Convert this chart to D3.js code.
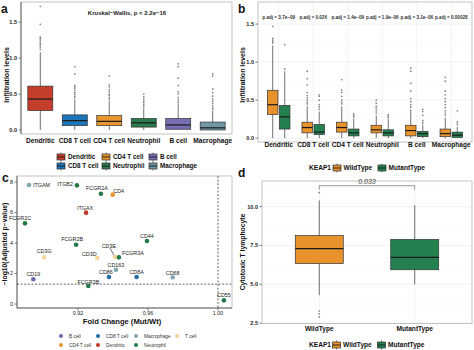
<!DOCTYPE html>
<html>
<head>
<meta charset="utf-8">
<script src="https://cdn.jsdelivr.net/npm/d3@7"></script>
<style>
body { margin: 0; background: #fff; }
svg { font-family: "Liberation Sans", Arial, sans-serif; }
</style>
</head>
<body>
<svg id="fig" width="474" height="350"></svg>
<script>
// Donnees communes
const cellTypes = ["Dendritic", "CD8 T cell", "CD4 T cell", "Neutrophil", "B cell", "Macrophage"];
const cellColors = ["#c43e2b", "#1d74b6", "#e6952f", "#2a7a4c", "#7670b3", "#6f97a6"];

// Panneau a
const aLow = [0, 0, 0, 0, 0, 0];
const aQ1 = [0.27, 0.06, 0.06, 0.04, 0.01, 0.0];
const aMedian = [0.43, 0.13, 0.12, 0.10, 0.07, 0.03];
const aQ3 = [0.61, 0.21, 0.20, 0.16, 0.16, 0.11];
const aHigh = [1.08, 0.43, 0.41, 0.31, 0.37, 0.27];
const aOutliers = [
    [1.12, 1.15, 1.18, 1.2, 1.22, 1.25, 1.27, 1.29, 1.47, 1.72],
    [0.45, 0.47, 0.5, 0.52, 0.55, 0.58, 0.6, 0.62, 0.78, 0.88],
    [0.43, 0.45, 0.48, 0.5, 0.53, 0.56, 0.6, 0.63, 0.75],
    [0.33, 0.35, 0.38, 0.4, 0.43, 0.46, 0.5],
    [0.39, 0.42, 0.45, 0.5, 0.53, 0.62, 0.72, 0.88, 0.92],
    [0.29, 0.31, 0.34, 0.37, 0.4, 0.43, 0.47, 0.52, 0.57, 0.75, 0.78]
];
const aTitle = "Kruskal\u2212Wallis, p < 2.2e\u221216";

// Panneau b
const keapGroups = ["WildType", "MutantType"];
const keapColors = ["#e8922e", "#23814f"];
const bWildLow = [0, 0, 0, 0, 0, 0];
const bWildQ1 = [0.31, 0.07, 0.08, 0.07, 0.03, 0.02];
const bWildMedian = [0.44, 0.14, 0.14, 0.11, 0.10, 0.06];
const bWildQ3 = [0.63, 0.21, 0.21, 0.17, 0.17, 0.12];
const bWildHigh = [1.22, 0.42, 0.42, 0.30, 0.38, 0.27];
const bWildOutliers = [
    [1.25, 1.27, 1.29, 1.31, 1.47],
    [0.45, 0.47, 0.5, 0.53, 0.56, 0.6, 0.7, 0.78, 0.88],
    [0.45, 0.47, 0.5, 0.55, 0.6, 0.63, 0.77],
    [0.33, 0.36, 0.39, 0.42, 0.46, 0.5],
    [0.41, 0.44, 0.48, 0.52, 0.62, 0.72, 0.88, 0.92],
    [0.3, 0.33, 0.36, 0.4, 0.44, 0.48, 0.52, 0.57, 0.62, 0.75, 0.8]
];
const bMutantLow = [0, 0, 0, 0, 0, 0];
const bMutantQ1 = [0.12, 0.05, 0.03, 0.03, 0.02, 0.01];
const bMutantMedian = [0.28, 0.08, 0.07, 0.07, 0.06, 0.04];
const bMutantQ3 = [0.43, 0.18, 0.12, 0.11, 0.09, 0.08];
const bMutantHigh = [0.88, 0.35, 0.26, 0.25, 0.18, 0.15];
const bMutantOutliers = [
    [0.91, 1.23],
    [0.38, 0.41, 0.44, 0.5, 0.55, 0.57],
    [0.28, 0.3, 0.32],
    [0.27, 0.29, 0.31],
    [0.2, 0.23, 0.3, 0.35, 0.38],
    [0.18, 0.21, 0.36]
];
const pAdjLabels = ["p.adj = 3.7e\u221209", "p.adj = 0.026", "p.adj = 1.4e\u221209", "p.adj = 1.9e\u221206", "p.adj = 3.1e\u221206", "p.adj = 0.00028"];

// Panneau c
const genes = ["ITGAM", "ITGB2", "FCGR2A", "CD4", "ITGAX", "FCGR2C", "FCGR2B", "CD44", "CD3E", "FCGR3A",
    "CD3D", "CD3G", "CD163", "CD19", "CD86", "CD8A", "CD68", "FCGR3B", "CD55"];
const foldChange = [0.892, 0.9194, 0.9331, 0.9398, 0.9246, 0.8897, 0.9189, 0.9594, 0.9411, 0.9434,
    0.9310, 0.9007, 0.9417, 0.8945, 0.9377, 0.9535, 0.9741, 0.9259, 1.0034];
const negLogP = [7.8, 7.78, 7.23, 7.17, 5.99, 5.29, 3.89, 4.13, 3.08, 3.06,
    3.02, 3.06, 2.25, 1.62, 1.77, 1.77, 1.75, 1.18, 0.24];
const geneCellType = ["Macrophage", "Neutrophil", "Neutrophil", "CD4 T cell", "Dendritic", "Neutrophil", "Neutrophil",
    "Neutrophil", "T cell", "Neutrophil", "T cell", "T cell", "Macrophage", "B cell", "CD8 T cell", "CD8 T cell",
    "Macrophage", "Neutrophil", "Neutrophil"];
const cLegendTypes = ["B cell", "CD4 T cell", "CD8 T cell", "Dendritic", "Macrophage", "Neutrophil", "T cell"];
const cLegendColors = ["#7166ad", "#e6952f", "#1f6fa6", "#c0392b", "#84a4b3", "#24794a", "#f3d79b"];
const cXTicks = [0.92, 0.96, 1.00];
const cYTicks = [0, 2, 4, 6, 8];

// Panneau d
const dLow = [4.3, 5.0];
const dQ1 = [6.34, 5.94];
const dMedian = [7.3, 6.73];
const dQ3 = [8.14, 7.89];
const dHigh = [10.4, 10.1];
const dOutliers = [[2.9, 3.1, 3.28, 10.9], []];
const dPValue = "0.033";

const svg = d3.select("#fig");
const frameGrey = "#b5b5b5";
const gridGrey = "#ececec";

// Outils de dessin
function drawBox(g, cx, w, y, stats, color) {
    g.append("line")
        .attr("x1", cx).attr("x2", cx)
        .attr("y1", y(stats.q3)).attr("y2", y(stats.high))
        .attr("stroke", "#333").attr("stroke-width", 0.7);
    g.append("line")
        .attr("x1", cx).attr("x2", cx)
        .attr("y1", y(stats.q1)).attr("y2", y(stats.low))
        .attr("stroke", "#333").attr("stroke-width", 0.7);
    g.append("rect")
        .attr("x", cx - w / 2).attr("y", y(stats.q3))
        .attr("width", w).attr("height", y(stats.q1) - y(stats.q3))
        .attr("fill", color).attr("stroke", "#333").attr("stroke-width", 0.7);
    g.append("line")
        .attr("x1", cx - w / 2).attr("x2", cx + w / 2)
        .attr("y1", y(stats.median)).attr("y2", y(stats.median))
        .attr("stroke", "#1a1a1a").attr("stroke-width", 1.2);
    stats.outliers.forEach(function(v) {
        g.append("circle")
            .attr("cx", cx).attr("cy", y(v)).attr("r", 0.9)
            .attr("fill", "#8a8a8a");
    });
}

function drawKey(g, x, y, color) {
    g.append("line").attr("x1", x).attr("x2", x).attr("y1", y - 4.5).attr("y2", y + 4.5)
        .attr("stroke", "#333").attr("stroke-width", 0.7);
    g.append("rect").attr("x", x - 4).attr("y", y - 3).attr("width", 8).attr("height", 6)
        .attr("fill", color).attr("stroke", "#333").attr("stroke-width", 0.7);
    g.append("line").attr("x1", x - 4).attr("x2", x + 4).attr("y1", y).attr("y2", y)
        .attr("stroke", "#1a1a1a").attr("stroke-width", 0.9);
}

function drawLeftTicks(g, y, ticks, x0, fmt, bold) {
    ticks.forEach(function(t) {
        g.append("line").attr("x1", x0 - 2.5).attr("x2", x0).attr("y1", y(t)).attr("y2", y(t))
            .attr("stroke", "#333").attr("stroke-width", 0.6);
        g.append("text").attr("x", x0 - 4).attr("y", y(t)).attr("dy", "0.35em")
            .attr("text-anchor", "end").attr("font-size", 5.5)
            .attr("font-weight", bold ? "bold" : "normal").attr("fill", "#222")
            .text(fmt(t));
    });
}

function yTitle(x, y, label, size) {
    svg.append("text")
        .attr("transform", "translate(" + x + "," + y + ") rotate(-90)")
        .attr("text-anchor", "middle").attr("dy", "0.35em")
        .attr("font-size", size).attr("font-weight", "bold").attr("fill", "#111")
        .text(label);
}

function panelLetter(x, y, letter) {
    svg.append("text").attr("x", x).attr("y", y)
        .attr("font-size", 12).attr("font-weight", "bold").attr("fill", "#111")
        .text(letter);
}

function frame(g, x0, x1, y0, y1) {
    g.append("rect").attr("x", x0).attr("y", y0).attr("width", x1 - x0).attr("height", y1 - y0)
        .attr("fill", "none").attr("stroke", frameGrey).attr("stroke-width", 0.8);
}

// Panneau a
function drawPanelA() {
    const g = svg.append("g");
    const x = d3.scalePoint().domain(cellTypes).range([21, 232]).padding(0.56);
    const y = d3.scaleLinear().domain([-0.056, 1.78]).range([134, 2]);

    frame(g, 21, 232, 2, 134);
    g.append("line").attr("x1", 21).attr("x2", 21).attr("y1", 2).attr("y2", 134)
        .attr("stroke", "#333").attr("stroke-width", 0.7);

    cellTypes.forEach(function(c, i) {
        drawBox(g, x(c), 25, y, {
            low: aLow[i], q1: aQ1[i], median: aMedian[i], q3: aQ3[i], high: aHigh[i], outliers: aOutliers[i]
        }, cellColors[i]);
        g.append("text").attr("x", x(c)).attr("y", 143).attr("text-anchor", "middle")
            .attr("font-size", 6.6).attr("font-weight", "bold").attr("fill", "#111").text(c);
    });

    drawLeftTicks(g, y, [0, 0.5, 1.0, 1.5], 21, d3.format(".1f"), true);
    g.append("text").attr("x", 127).attr("y", 15).attr("text-anchor", "middle")
        .attr("font-size", 6).attr("font-weight", "bold").attr("fill", "#222").text(aTitle);

    yTitle(7, 75, "Infiltration levels", 7);
    panelLetter(1, 13, "a");

    const legendCols = [61, 106, 153];
    const legendRows = [157, 166];
    cellTypes.forEach(function(c, i) {
        const lx = legendCols[Math.floor(i / 2)];
        const ly = legendRows[i % 2];
        drawKey(g, lx, ly, cellColors[i]);
        g.append("text").attr("x", lx + 7).attr("y", ly).attr("dy", "0.35em")
            .attr("font-size", 6.3).attr("font-weight", "bold").attr("fill", "#111").text(c);
    });
}

// Panneau b
function drawPanelB() {
    const g = svg.append("g");
    const x = d3.scalePoint().domain(cellTypes).range([258, 472]).padding(0.6);
    const y = d3.scaleLinear().domain([-0.05, 1.79]).range([142, 2]);

    [0.25, 0.75, 1.25, 1.75].forEach(function(t) {
        g.append("line").attr("x1", 258).attr("x2", 472).attr("y1", y(t)).attr("y2", y(t))
            .attr("stroke", "#f4f4f4").attr("stroke-width", 0.5);
    });
    [0, 0.5, 1.0, 1.5].forEach(function(t) {
        g.append("line").attr("x1", 258).attr("x2", 472).attr("y1", y(t)).attr("y2", y(t))
            .attr("stroke", gridGrey).attr("stroke-width", 0.7);
    });
    cellTypes.forEach(function(c) {
        g.append("line").attr("x1", x(c)).attr("x2", x(c)).attr("y1", 2).attr("y2", 142)
            .attr("stroke", gridGrey).attr("stroke-width", 0.7);
    });
    frame(g, 258, 472, 2, 142);

    cellTypes.forEach(function(c, i) {
        drawBox(g, x(c) - 6, 10.5, y, {
            low: bWildLow[i], q1: bWildQ1[i], median: bWildMedian[i], q3: bWildQ3[i],
            high: bWildHigh[i], outliers: bWildOutliers[i]
        }, keapColors[0]);
        drawBox(g, x(c) + 6, 10.5, y, {
            low: bMutantLow[i], q1: bMutantQ1[i], median: bMutantMedian[i], q3: bMutantQ3[i],
            high: bMutantHigh[i], outliers: bMutantOutliers[i]
        }, keapColors[1]);
        g.append("text").attr("x", x(c)).attr("y", 147).attr("text-anchor", "middle")
            .attr("font-size", 6.6).attr("font-weight", "bold").attr("fill", "#111").text(c);
        g.append("text").attr("x", x(c)).attr("y", 19).attr("text-anchor", "middle")
            .attr("font-size", 4.6).attr("font-weight", "bold").attr("fill", "#333").text(pAdjLabels[i]);
    });

    drawLeftTicks(g, y, [0, 0.5, 1.0, 1.5], 258, d3.format(".1f"), true);
    yTitle(243, 75, "Infiltration levels", 7);
    panelLetter(238, 13, "b");

    g.append("text").attr("x", 331).attr("y", 168).attr("dy", "0.35em").attr("text-anchor", "end")
        .attr("font-size", 6.6).attr("font-weight", "bold").attr("fill", "#111").text("KEAP1");
    [337, 382].forEach(function(lx, i) {
        drawKey(g, lx, 168, keapColors[i]);
        g.append("text").attr("x", lx + 6.5).attr("y", 168).attr("dy", "0.35em")
            .attr("font-size", 6.6).attr("font-weight", "bold").attr("fill", "#111").text(keapGroups[i]);
    });
}

// Panneau c
const labelOffsets = {
    ITGAM: [4, 0, "start"], ITGB2: [-4, -1, "end"], FCGR2A: [-4, -6, "middle"], CD4: [6, -4, "middle"],
    ITGAX: [-1, -5, "middle"], FCGR2C: [-5, -5, "middle"], FCGR2B: [-4, -6, "middle"], CD44: [0, -5, "middle"],
    CD3E: [-6, -11, "middle"], FCGR3A: [3, -4, "start"], CD3D: [-8, -4, "middle"], CD3G: [0, -6, "middle"],
    CD163: [0, -5, "middle"], CD19: [0, -5, "middle"], CD86: [-3, -4.5, "middle"], CD8A: [0, -4.5, "middle"],
    CD68: [0, -4.5, "middle"], FCGR3B: [0, -4, "middle"], CD55: [0, -5.5, "middle"]
};

function drawPanelC() {
    const g = svg.append("g");
    const x = d3.scaleLinear().domain([0.92, 1.00]).range([78, 218]);
    const y = d3.scaleLinear().domain([0, 8]).range([304, 182]);
    const color = d3.scaleOrdinal().domain(cLegendTypes).range(cLegendColors);

    frame(g, 17, 232, 176, 308);
    g.append("line").attr("x1", 17).attr("x2", 17).attr("y1", 176).attr("y2", 308)
        .attr("stroke", "#333").attr("stroke-width", 0.7);
    g.append("line").attr("x1", 17).attr("x2", 232).attr("y1", 308).attr("y2", 308)
        .attr("stroke", "#333").attr("stroke-width", 0.7);

    g.append("line").attr("x1", x(1.0)).attr("x2", x(1.0)).attr("y1", 176).attr("y2", 308)
        .attr("stroke", "#222").attr("stroke-width", 0.7).attr("stroke-dasharray", "2,1.6");
    g.append("line").attr("x1", 17).attr("x2", 232).attr("y1", y(-Math.log10(0.05))).attr("y2", y(-Math.log10(0.05)))
        .attr("stroke", "#222").attr("stroke-width", 0.7).attr("stroke-dasharray", "2,1.6");

    drawLeftTicks(g, y, cYTicks, 17, d3.format("d"), false);
    cXTicks.forEach(function(t) {
        g.append("line").attr("x1", x(t)).attr("x2", x(t)).attr("y1", 308).attr("y2", 310.5)
            .attr("stroke", "#333").attr("stroke-width", 0.6);
        g.append("text").attr("x", x(t)).attr("y", 314.5).attr("text-anchor", "middle")
            .attr("font-size", 5.4).attr("fill", "#222").text(d3.format(".2f")(t));
    });

    // segment CD3E
    const iE = genes.indexOf("CD3E");
    g.append("line")
        .attr("x1", x(foldChange[iE]) - 5).attr("y1", y(negLogP[iE]) - 9)
        .attr("x2", x(foldChange[iE])).attr("y2", y(negLogP[iE]))
        .attr("stroke", "#111").attr("stroke-width", 0.6);

    genes.forEach(function(gene, i) {
        g.append("circle").attr("cx", x(foldChange[i])).attr("cy", y(negLogP[i])).attr("r", 2.3)
            .attr("fill", color(geneCellType[i]));
    });
    genes.forEach(function(gene, i) {
        const off = labelOffsets[gene];
        g.append("text").attr("x", x(foldChange[i]) + off[0]).attr("y", y(negLogP[i]) + off[1])
            .attr("dy", "0.35em").attr("text-anchor", off[2])
            .attr("font-size", 5.4).attr("fill", "#222").text(gene);
    });

    g.append("text").attr("x", 122).attr("y", 323.5).attr("text-anchor", "middle")
        .attr("font-size", 7.6).attr("font-weight", "bold").attr("fill", "#111").text("Fold Change (Mut/Wt)");
    yTitle(5, 244, "\u2212log10(Adjusted p\u2212value)", 6.8);
    panelLetter(2, 182, "c");

    const legendCols = [61, 98, 136, 177];
    const legendRows = [336, 345];
    cLegendTypes.forEach(function(t, i) {
        const lx = legendCols[Math.floor(i / 2)];
        const ly = legendRows[i % 2];
        g.append("circle").attr("cx", lx).attr("cy", ly).attr("r", 2).attr("fill", cLegendColors[i]);
        g.append("text").attr("x", lx + 8).attr("y", ly).attr("dy", "0.35em")
            .attr("font-size", 4.8).attr("fill", "#333").text(t);
    });
}

// Panneau d
function drawPanelD() {
    const g = svg.append("g");
    const x = d3.scalePoint().domain(keapGroups).range([262, 472]).padding(0.6);
    const y = d3.scaleLinear().domain([2.48, 11.65]).range([323.5, 181]);

    [3.75, 6.25, 8.75, 11.25].forEach(function(t) {
        g.append("line").attr("x1", 262).attr("x2", 472).attr("y1", y(t)).attr("y2", y(t))
            .attr("stroke", "#f4f4f4").attr("stroke-width", 0.5);
    });
    [2.5, 5.0, 7.5, 10.0].forEach(function(t) {
        g.append("line").attr("x1", 262).attr("x2", 472).attr("y1", y(t)).attr("y2", y(t))
            .attr("stroke", gridGrey).attr("stroke-width", 0.7);
    });
    keapGroups.forEach(function(k) {
        g.append("line").attr("x1", x(k)).attr("x2", x(k)).attr("y1", 181).attr("y2", 323.5)
            .attr("stroke", gridGrey).attr("stroke-width", 0.7);
    });
    frame(g, 262, 472, 181, 323.5);

    keapGroups.forEach(function(k, i) {
        drawBox(g, x(k), 48, y, {
            low: dLow[i], q1: dQ1[i], median: dMedian[i], q3: dQ3[i], high: dHigh[i], outliers: dOutliers[i]
        }, keapColors[i]);
        g.append("text").attr("x", x(k)).attr("y", 331).attr("text-anchor", "middle")
            .attr("font-size", 6.6).attr("font-weight", "bold").attr("fill", "#111").text(k);
    });

    const by = 185.7;
    g.append("path")
        .attr("d", "M" + x(keapGroups[0]) + "," + (by + 4) + "V" + by + "H" + x(keapGroups[1]) + "V" + (by + 4))
        .attr("fill", "none").attr("stroke", "#555").attr("stroke-width", 0.6);
    g.append("text").attr("x", (x(keapGroups[0]) + x(keapGroups[1])) / 2).attr("y", by - 1.5)
        .attr("text-anchor", "middle").attr("font-size", 7).attr("font-style", "italic")
        .attr("fill", "#444").text(dPValue);

    drawLeftTicks(g, y, [2.5, 5.0, 7.5, 10.0], 262, d3.format(".1f"), true);
    yTitle(243, 252, "Cytotoxic T lymphocyte", 6.8);
    panelLetter(238, 177, "d");

    g.append("text").attr("x", 331).attr("y", 345).attr("dy", "0.35em").attr("text-anchor", "end")
        .attr("font-size", 6.6).attr("font-weight", "bold").attr("fill", "#111").text("KEAP1");
    [336.5, 381.5].forEach(function(lx, i) {
        drawKey(g, lx, 345, keapColors[i]);
        g.append("text").attr("x", lx + 6.5).attr("y", 345).attr("dy", "0.35em")
            .attr("font-size", 6.6).attr("font-weight", "bold").attr("fill", "#111").text(keapGroups[i]);
    });
}

drawPanelA();
drawPanelB();
drawPanelC();
drawPanelD();
</script>
</body>
</html>
